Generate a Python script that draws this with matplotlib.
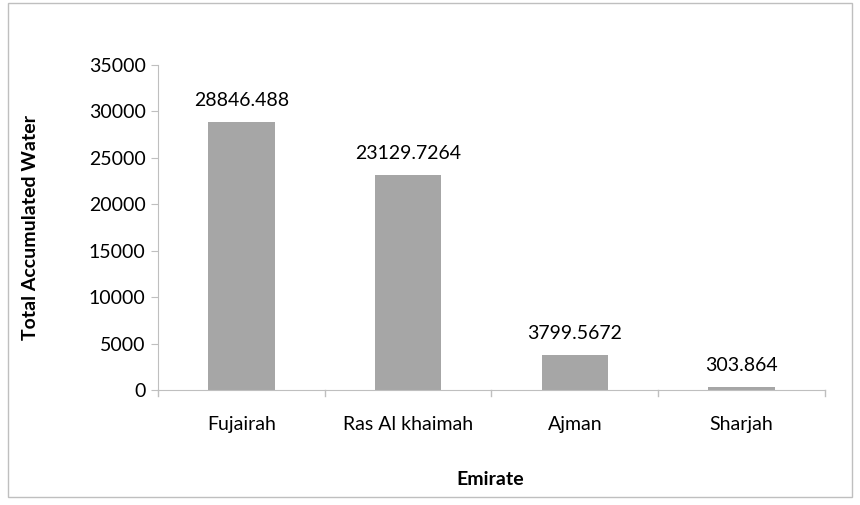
import matplotlib
matplotlib.use("Agg")
import matplotlib.pyplot as plt
from matplotlib.patches import Rectangle

categories = ["Fujairah", "Ras Al khaimah", "Ajman", "Sharjah"]
values = [28846.488, 23129.7264, 3799.5672, 303.864]
labels = ["28846.488", "23129.7264", "3799.5672", "303.864"]
yticks = [0, 5000, 10000, 15000, 20000, 25000, 30000, 35000]

plt.rcParams['font.family'] = ['Lato', 'DejaVu Sans']
FS = 14

fig = plt.figure(figsize=(8.6, 5.05), dpi=100)
fig.patches.append(Rectangle((8/860, 1-497/505), 844/860, 494/505, transform=fig.transFigure,
                             fill=False, edgecolor='#BFBFBF', linewidth=1))
ax = fig.add_axes([158/860, 1-390/505, (825-158)/860, (390-65)/505])

x = list(range(len(categories)))
ax.bar(x, values, width=0.4, color='#A6A6A6')
for xi, v, lab in zip(x, values, labels):
    ax.text(xi, v + 1400, lab, ha='center', va='bottom', fontsize=FS, color='black')

ax.set_xlim(-0.5, len(categories) - 0.5)
ax.set_ylim(0, 35000)
ax.set_yticks(yticks)
ax.set_yticklabels([str(t) for t in yticks], fontsize=FS)
ax.set_xticks(x)
ax.set_xticklabels(categories, fontsize=FS)
ax.tick_params(axis='x', length=0, pad=19)
ax.tick_params(axis='y', length=5, color='#BFBFBF', pad=4)
for b in [0.5, 1.5, 2.5, 3.5, -0.5]:
    ax.plot([b, b], [0, -600], color='#BFBFBF', lw=1, clip_on=False)

for s in ['top', 'right']:
    ax.spines[s].set_visible(False)
for s in ['left', 'bottom']:
    ax.spines[s].set_color('#BFBFBF')

ax.set_ylabel("Total Accumulated Water", fontsize=FS, fontweight='bold')
ax.yaxis.set_label_coords(-0.178, 0.5)
ax.set_xlabel("Emirate", fontsize=FS, fontweight='bold')
ax.xaxis.set_label_coords(0.498, -0.25)

fig.savefig("out.png", dpi=100)
